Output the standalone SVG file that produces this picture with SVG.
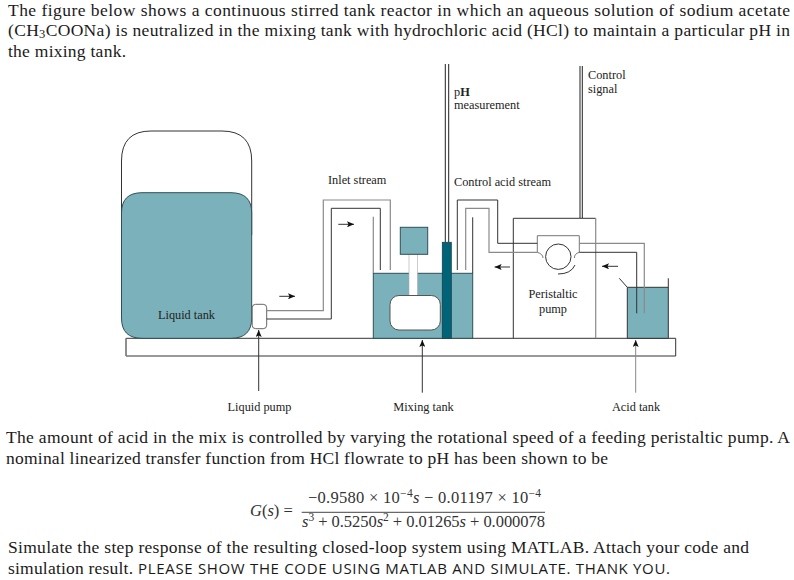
<svg xmlns="http://www.w3.org/2000/svg" width="794" height="580" viewBox="0 0 794 580">
<style>
text{font-family:"Liberation Serif","Times New Roman",serif;fill:#1a1a1a}
.b{font-size:17.5px}
.l{font-size:12.3px;fill:#222}
.m{font-size:16.5px;fill:#333}
.i{font-style:italic}
.k{stroke:#333;stroke-width:1;fill:none}
.g{stroke:#8a8a8a;stroke-width:1.2;fill:none}
.d{stroke:#222;stroke-width:1;fill:none}
.t{fill:#7bb1ba;stroke:#2f4f55;stroke-width:1}
.a{stroke:#333;stroke-width:1;fill:none;marker-end:url(#h)}
.ag{stroke:#888;stroke-width:1;fill:none;marker-end:url(#h)}
</style>
<defs><marker id="h" markerUnits="userSpaceOnUse" markerWidth="8" markerHeight="6" refX="7" refY="3" orient="auto"><path d="M0 0L7 3L0 6L1.5 3Z" fill="#111"/></marker></defs>
<rect width="794" height="580" fill="#fff"/>
<g id="intro">
<text class="b" x="8" y="16" textLength="782" lengthAdjust="spacing">The figure below shows a continuous stirred tank reactor in which an aqueous solution of sodium acetate</text>
<text class="b" x="8" y="36" textLength="782" lengthAdjust="spacing">(CH<tspan font-size="12.500" dy="2">3</tspan><tspan dy="-2">COONa) is neutralized in the mixing tank with hydrochloric acid (HCl) to maintain a particular pH in</tspan></text>
<text class="b" x="8" y="57" textLength="118" lengthAdjust="spacing">the mixing tank.</text>
</g>
<g id="base"><path class="k" d="M126 338.3H675.7V356H126Z"/><path class="g" d="M126 338.3V356"/></g>
<g id="liquid-tank">
<path class="k" d="M121.5 235V161Q121.5 131 151 131H222Q251.7 131 251.7 161V235"/>
<path class="t" d="M121.5 213Q121.5 192.7 142 192.7H231Q251.7 192.7 251.7 213V318Q251.7 338.3 231 338.3H142Q121.5 338.3 121.5 318Z"/>
<text class="l" x="186.500" y="319" text-anchor="middle">Liquid tank</text>
</g>
<g id="liquid-pump"><rect x="252.2" y="304.3" width="14.5" height="24.4" rx="3.5" fill="#fff" stroke="#666"/></g>
<g id="mixing-tank">
<rect class="t" x="373.3" y="273.3" width="99.4" height="65"/>
<rect x="409" y="254" width="8.5" height="42" fill="#fff" stroke="#aaa" stroke-width=".6"/>
<rect class="t" x="400.3" y="227.3" width="27.4" height="27"/>
<rect x="390" y="295.5" width="50.3" height="34.5" rx="9" fill="#fff" stroke="#555"/>
<rect x="442.3" y="242.3" width="9" height="96" fill="#006478" stroke="#1c3f47" stroke-width=".8"/>
</g>
<g id="peristaltic-pump">
<path class="k" d="M595.7 218.3H513.3V338.3"/><path class="g" d="M595.7 218.3V338.3"/>
<path d="M537.3 252.3V235.7H579.3V252.3Q574 254 574.500 258" fill="#fff" stroke="#777"/>
<path d="M537.3 252.3Q543 254 543 258" fill="none" stroke="#777"/>
<circle cx="558.3" cy="256.7" r="12.7" fill="#fff" stroke="#333"/>
<path class="k" d="M575 265Q571 274 558 274"/>
<text class="l" x="553" y="298" text-anchor="middle">Peristaltic</text>
<text class="l" x="553" y="313" text-anchor="middle">pump</text>
</g>
<g id="acid-tank">
<rect x="627.3" y="287.3" width="41" height="51" fill="#7bb1ba"/>
<path class="k" d="M619.3 278.3L627.3 287.3V338.3H668.3V278.3M627.3 287.3H668.3"/>
</g>
<g id="connectors">
<path class="g" d="M266.7 310.7H323.3V200H390.3V270"/>
<path class="k" d="M266.7 319H331.3V208.3H380.3V270"/>
<path class="g" d="M373.3 216.7V273"/>
<path class="g" d="M537.3 252.3H489V208.3H465.7V270"/>
<path class="k" d="M537.3 243.3H497.7V200H457.3V270"/>
<path class="k" d="M472.7 217.3V273"/>
<path class="g" d="M579.3 243.3H644.3V313.3"/>
<path class="k" d="M579.3 252.3H636.7V313.3"/>
<path class="d" d="M445.3 64V242M448.7 64V242"/>
<path class="d" d="M580 66V218M582.3 66V218"/>
<path class="a" d="M279.3 296.3H295"/>
<path class="a" d="M338.3 224.3H354"/>
<path class="a" d="M510 267H494.6"/>
<path class="a" d="M618 266.3H602"/>
<path class="a" d="M258.7 391V330"/>
<path class="a" d="M422.3 392.7V340"/>
<path class="ag" d="M635.7 392.7V340"/>
</g>
<g id="labels">
<text class="l" x="328" y="184">Inlet stream</text>
<text class="l" x="454" y="96">p<tspan font-weight="bold">H</tspan></text>
<text class="l" x="454" y="109">measurement</text>
<text class="l" x="454" y="186">Control acid stream</text>
<text class="l" x="588" y="79">Control</text>
<text class="l" x="588" y="92.500">signal</text>
<text class="l" x="259.500" y="411" text-anchor="middle">Liquid pump</text>
<text class="l" x="423.500" y="411" text-anchor="middle">Mixing tank</text>
<text class="l" x="636" y="411" text-anchor="middle">Acid tank</text>
</g>
<g id="middle-text">
<text class="b" x="6" y="443" textLength="784" lengthAdjust="spacing">The amount of acid in the mix is controlled by varying the rotational speed of a feeding peristaltic pump. A</text>
<text class="b" x="6" y="464" textLength="602" lengthAdjust="spacing">nominal linearized transfer function from HCl flowrate to pH has been shown to be</text>
</g>
<g id="equation">
<text class="m" x="250" y="516"><tspan class="i">G</tspan>(<tspan class="i">s</tspan>) =</text>
<text class="m" x="308" y="503" textLength="233" lengthAdjust="spacing">−0.9580 × 10<tspan font-size="11.500" dy="-6">−4</tspan><tspan class="i" dy="6">s</tspan> − 0.01197 × 10<tspan font-size="11.500" dy="-6">−4</tspan></text>
<path d="M301.700 512.300H545" stroke="#444" fill="none"/>
<text class="m" x="302" y="527" textLength="243" lengthAdjust="spacing"><tspan class="i">s</tspan><tspan font-size="11.500" dy="-6">3</tspan><tspan dy="6"> + 0.5250</tspan><tspan class="i">s</tspan><tspan font-size="11.500" dy="-6">2</tspan><tspan dy="6"> + 0.01265</tspan><tspan class="i">s</tspan> + 0.000078</text>
</g>
<g id="closing-text">
<text class="b" x="8" y="553" textLength="741" lengthAdjust="spacing">Simulate the step response of the resulting closed-loop system using MATLAB.  Attach your code and</text>
<text class="b" x="8" y="574" textLength="125" lengthAdjust="spacing">simulation result.</text>
<text x="138" y="574" style="font-family:'Open Sans','Noto Sans',sans-serif;font-size:15px" textLength="532" lengthAdjust="spacing">PLEASE SHOW THE CODE USING MATLAB AND SIMULATE. THANK YOU.</text>
</g>
</svg>
